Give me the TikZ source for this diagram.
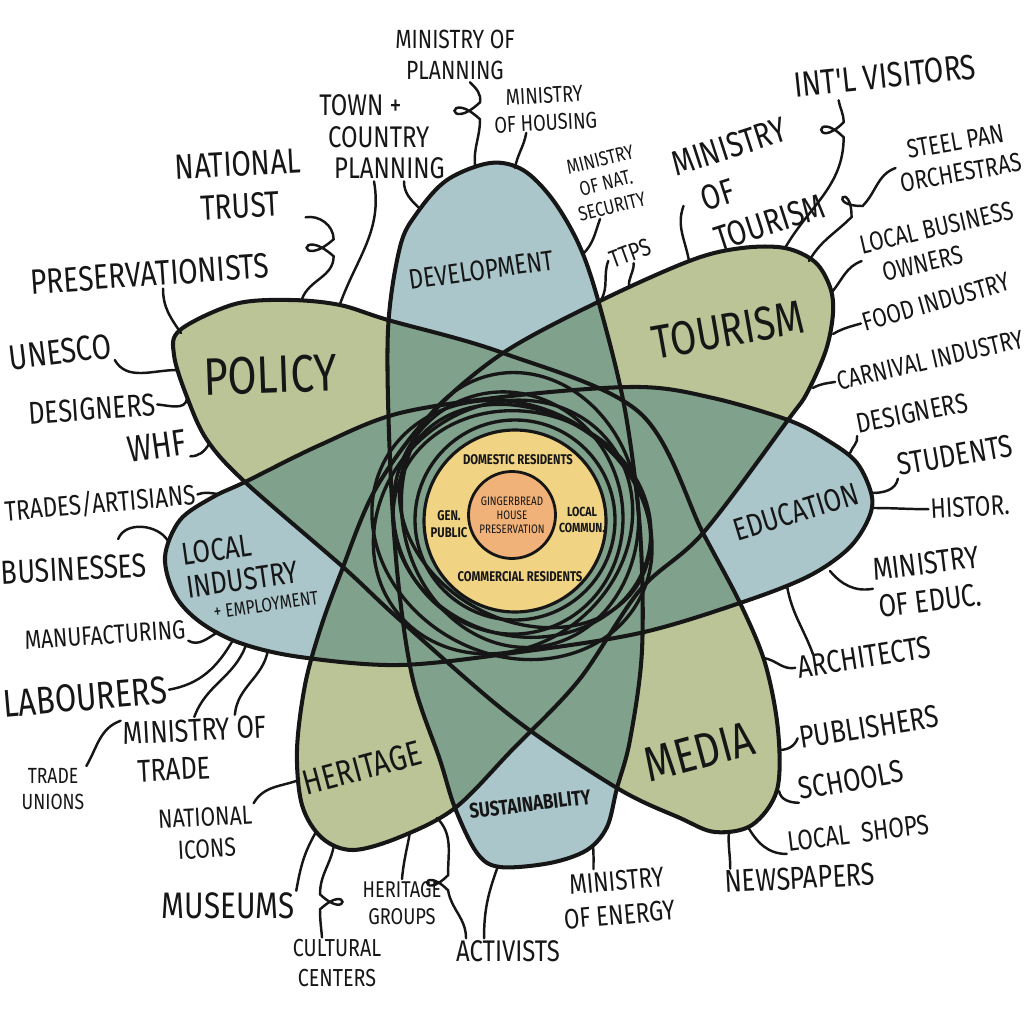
\documentclass[tikz,border=0pt]{standalone}
\usepackage{fontspec}
\newfontfamily\hand{Fira Sans}[FakeStretch=0.8]
\usetikzlibrary{calc}
\definecolor{ink}{HTML}{161616}
\definecolor{leaf}{HTML}{BAC496}
\definecolor{sky}{HTML}{AAC6CA}
\definecolor{overlap}{HTML}{80A18B}
\definecolor{sand}{HTML}{F0D484}
\definecolor{peach}{HTML}{F0B278}
\newcommand\lblsize[1]{\fontsize{#1}{#1}\selectfont\setlength\baselineskip{1.2\baselineskip}}

% petal outlines, traced in pixel units (y negative)
\def\petalPM{plot[smooth cycle,tension=0.55] coordinates {(180,-330) (235,-304) (290,-300) (340,-305) (388,-320) (503,-353) (640,-413) (703,-533) (740,-603) (765,-663) (778,-730) (777,-790) (752,-825) (715,-832) (680,-818) (617,-788) (512,-717) (400,-620) (343,-567) (245,-482) (207,-440) (187,-397) (174,-355)}}
\def\petalTH{plot[smooth cycle,tension=0.55] coordinates {(742,-248) (785,-248) (815,-262) (830,-287) (833,-313) (826,-350) (807,-393) (788,-420) (703,-533) (640,-590) (579,-680) (512,-750) (455,-808) (400,-837) (353,-850) (322,-838) (302,-805) (297,-750) (305,-685) (320,-630) (340,-575) (375,-490) (430,-415) (503,-353) (602,-300) (692,-260)}}
\def\petalV{plot[smooth cycle,tension=0.55] coordinates {(490,-163) (523,-170) (553,-200) (580,-247) (600,-307) (625,-410) (640,-530) (642,-650) (630,-740) (617,-788) (607,-827) (587,-850) (550,-863) (500,-867) (477,-853) (455,-808) (440,-760) (413,-680) (398,-580) (390,-460) (388,-330) (400,-247) (417,-213) (447,-180)}}
\def\petalH{plot[smooth cycle,tension=0.55] coordinates {(165,-557) (180,-520) (213,-497) (245,-482) (320,-445) (400,-413) (520,-395) (640,-387) (713,-398) (788,-420) (827,-440) (857,-463) (872,-497) (867,-522) (847,-550) (807,-577) (740,-603) (640,-633) (520,-652) (400,-665) (300,-657) (240,-643) (200,-622) (175,-595)}}

\tikzset{
  petal/.style={draw=ink,line width=2.3pt,line join=round},
  ring/.style={draw=ink,line width=1.9pt},
  conn/.style={draw=ink,line width=1.4pt,line cap=round},
  lbl/.style={text=ink,align=center,inner sep=1pt,font=\hand\lblsize{#1}},
  title/.style={text=ink,align=center,inner sep=1pt,font=\hand\lblsize{#1}},
  centre/.style={text=ink,align=center,inner sep=1pt,font=\hand\bfseries\lblsize{#1}},
}

\begin{document}
\begin{tikzpicture}[x=0.02cm,y=0.02cm]
  \useasboundingbox (0,0) rectangle (1024,-1024);

  % petals and their overlaps
  \fill[leaf] \petalPM;
  \fill[leaf] \petalTH;
  \fill[sky] \petalV;
  \fill[sky] \petalH;
  \begin{scope}
    \clip \petalPM;
    \fill[overlap] \petalTH; \fill[overlap] \petalV; \fill[overlap] \petalH;
  \end{scope}
  \begin{scope}
    \clip \petalTH;
    \fill[overlap] \petalV; \fill[overlap] \petalH;
  \end{scope}
  \begin{scope}
    \clip \petalV;
    \fill[overlap] \petalH;
  \end{scope}
  \draw[petal] \petalPM;
  \draw[petal] \petalTH;
  \draw[petal] \petalV;
  \draw[petal] \petalH;

  % scribbled rings round the core
  \foreach \cx/\cy/\rx/\ry/\rot in {515/-520/100/100/0, 508/-513/114/122/20,
      522/-524/130/112/-15, 503/-527/136/120/40, 520/-510/118/138/10,
      512/-530/145/124/-30, 525/-516/104/132/60}
    \draw[ring,rotate around={\rot:(\cx,\cy)}] (\cx,\cy) ellipse [x radius=\rx,y radius=\ry];

  \draw[ink,line width=1.8pt,fill=sand] (515,-521) circle [radius=91];
  \node[circle,draw=ink,line width=1.6pt,fill=peach,minimum size=1.74cm,inner sep=0pt,
        align=center,text=ink,font=\hand\fontsize{7}{8}\selectfont] (core) at (512,-515)
    {GINGERBREAD\\HOUSE\\PRESERVATION};
  \node[centre=8] (domestic) at (518,-460) {DOMESTIC RESIDENTS};
  \node[centre=8] (genpub) at (449,-524) {GEN.\\PUBLIC};
  \node[centre=7.5] (localcom) at (582,-520) {LOCAL\\COMMUN.};
  \node[centre=8] (commercial) at (520,-577) {COMMERCIAL RESIDENTS};

  % petal titles
  \node[title=30,rotate=2] (policy) at (270,-375) {POLICY};
  \node[title=27,rotate=10] (tourism) at (728,-330) {TOURISM};
  \node[title=16,rotate=8] (devel) at (481,-270) {DEVELOPMENT};
  \node[title=18,rotate=17] (educ) at (796,-512) {EDUCATION};
  \node[title=18,rotate=8,align=left,font=\hand\fontsize{18}{19}\selectfont] (locind) at (240,-563) {LOCAL\\INDUSTRY};
  \node[title=11,rotate=8] (employ) at (266,-605) {+ EMPLOYMENT};
  \node[title=20,rotate=15] (herit) at (362,-768) {HERITAGE};
  \node[title=28,rotate=15] (media) at (699,-752) {MEDIA};
  \node[centre=12,rotate=7] (sustain) at (530,-804) {SUSTAINABILITY};

  % stakeholders
  \node[lbl=20,rotate=7] (unesco) at (60,-352) {UNESCO};
  \node[lbl=18,rotate=4] (desL) at (92,-409) {DESIGNERS};
  \node[lbl=21,rotate=8] (whf) at (157,-446) {WHF};
  \node[lbl=16,rotate=5] (trades) at (100,-503) {TRADES/ARTISIANS};
  \node[lbl=19,rotate=3] (bus) at (74,-569) {BUSINESSES};
  \node[lbl=15,rotate=4] (manuf) at (105,-635) {MANUFACTURING};
  \node[lbl=22,rotate=5] (lab) at (85,-697) {LABOURERS};
  \node[lbl=18,rotate=3,align=left] (mtrade) at (196,-749) {MINISTRY OF\\\hspace{0.4em}TRADE};
  \node[lbl=12.5] (tunions) at (53,-789) {TRADE\\UNIONS};
  \node[lbl=15,rotate=3] (nicons) at (206,-833) {NATIONAL\\ICONS};
  \node[lbl=21] (museums) at (228,-906) {MUSEUMS};
  \node[lbl=14] (cultural) at (337,-963) {CULTURAL\\CENTERS};
  \node[lbl=13] (hgroups) at (402,-903) {HERITAGE\\GROUPS};
  \node[lbl=17] (activists) at (508,-951) {ACTIVISTS};
  \node[lbl=16,rotate=5] (menergy) at (618,-898) {MINISTRY\\OF ENERGY};
  \node[lbl=18,rotate=3] (news) at (800,-878) {NEWSPAPERS};
  \node[lbl=16,rotate=7] (lshops) at (858,-833) {LOCAL\ \ SHOPS};
  \node[lbl=18,rotate=10] (schools) at (851,-780) {SCHOOLS};
  \node[lbl=18,rotate=9] (pub) at (869,-727) {PUBLISHERS};
  \node[lbl=18,rotate=9] (arch) at (864,-657) {ARCHITECTS};
  \node[lbl=18,rotate=7] (meduc) at (928,-582) {MINISTRY\\OF EDUC.};
  \node[lbl=16,rotate=3] (histor) at (970,-507) {HISTOR.};
  \node[lbl=18,rotate=10] (students) at (955,-455) {STUDENTS};
  \node[lbl=16,rotate=11] (desR) at (912,-413) {DESIGNERS};
  \node[lbl=15,rotate=13] (carn) at (930,-360) {CARNIVAL INDUSTRY};
  \node[lbl=15,rotate=16] (food) at (936,-302) {FOOD INDUSTRY};
  \node[lbl=15,rotate=13,align=left] (lbo) at (940,-243) {LOCAL BUSINESS\\\hspace{0.6em}OWNERS};
  \node[lbl=15,rotate=10] (steel) at (958,-157) {STEEL PAN\\ORCHESTRAS};
  \node[lbl=20,rotate=6] (intl) at (885,-76) {INT'L VISITORS};
  \node[lbl=20,rotate=18,align=left] (mtour) at (748,-185) {MINISTRY\\\hspace{0.5em}OF\\\hspace{0.5em}TOURISM};
  \node[lbl=14,rotate=20] (ttps) at (630,-253) {TTPS};
  \node[lbl=11.5,rotate=14] (mnat) at (606,-183) {MINISTRY\\OF NAT.\\SECURITY};
  \node[lbl=13,rotate=3] (mhous) at (545,-109) {MINISTRY\\OF HOUSING};
  \node[lbl=15] (mplan) at (455,-55) {MINISTRY OF\\PLANNING};
  \node[lbl=17,align=left,font=\hand\fontsize{17}{18}\selectfont] (tcp) at (382,-137) {TOWN +\\\hspace{0.3em}COUNTRY\\\hspace{0.5em}PLANNING};
  \node[lbl=20,rotate=3] (ntrust) at (239,-185) {NATIONAL\\TRUST};
  \node[lbl=20,rotate=4] (pres) at (150,-274) {PRESERVATIONISTS};

  % where the strings meet the petals
  \coordinate (e-unesco) at (177,-370);
  \coordinate (e-desL) at (187,-399);
  \coordinate (e-whf) at (209,-444);
  \coordinate (e-trades) at (217,-494);
  \coordinate (e-bus) at (168,-541);
  \coordinate (e-manuf) at (218,-632);
  \coordinate (e-lab) at (233,-640);
  \coordinate (e-mt1) at (246,-645);
  \coordinate (e-mt2) at (268,-650);
  \coordinate (e-nicons) at (299,-780);
  \coordinate (e-mus) at (316,-832);
  \coordinate (e-cult) at (334,-845);
  \coordinate (e-hg) at (410,-832);
  \coordinate (e-act1) at (437,-818);
  \coordinate (e-act2) at (498,-866);
  \coordinate (e-men) at (593,-846);
  \coordinate (e-news) at (729,-831);
  \coordinate (e-lshop) at (748,-827);
  \coordinate (e-sch) at (779,-791);
  \coordinate (e-pub) at (779,-750);
  \coordinate (e-arch1) at (764,-658);
  \coordinate (e-arch2) at (787,-586);
  \coordinate (e-meduc) at (830,-571);
  \coordinate (e-histor) at (873,-508);
  \coordinate (e-stud) at (872,-493);
  \coordinate (e-desR) at (850,-453);
  \coordinate (e-carn) at (813,-388);
  \coordinate (e-food) at (833,-334);
  \coordinate (e-lbo) at (832,-292);
  \coordinate (e-steel) at (809,-261);
  \coordinate (e-intl) at (785,-248);
  \coordinate (e-mtour) at (689,-261);
  \coordinate (e-ttps1) at (601,-300);
  \coordinate (e-ttps2) at (629,-287);
  \coordinate (e-mnat) at (583,-254);
  \coordinate (e-mhous) at (515,-168);
  \coordinate (e-mplan) at (475,-165);
  \coordinate (e-tcp1) at (418,-207);
  \coordinate (e-tcp2) at (340,-304);
  \coordinate (e-ntrust) at (302,-299);
  \coordinate (e-pres) at (181,-333);

  % strings
  \draw[conn] (unesco.south east) to[out=-60,in=180] (e-unesco);
  \draw[conn] (desL.east) to[out=-5,in=-100] (e-desL);
  \draw[conn] (whf.south east) to[out=0,in=-120] (e-whf);
  \draw[conn] (trades.east) to[out=20,in=170] (e-trades);
  \draw[conn] ($(bus.north east)+(-30,12)$) to[out=70,in=120] (e-bus);
  \draw[conn] (manuf.south east) to[out=-30,in=-150] (e-manuf);
  \draw[conn] (lab.east) to[out=10,in=-120] (e-lab);
  \draw[conn] (mtrade.north) to[out=70,in=-110] (e-mt1);
  \draw[conn] ($(mtrade.north)!0.55!(mtrade.north east)$) to[out=85,in=-100] (e-mt2);
  \draw[conn] (tunions.north east) to[out=60,in=200] (mtrade.north west);
  \draw[conn] (nicons.north east) to[out=60,in=-160] (e-nicons);
  \draw[conn] (museums.north east) to[out=80,in=-120] (e-mus);
  \draw[conn] ($(cultural.north)+(-15,0)$) to[out=95,in=-90] ++(-2,28)
    .. controls +(30,28) and +(30,-28) .. ++(0,15) to[out=90,in=-100] (e-cult);
  \draw[conn] (hgroups.north) to[out=85,in=-100] (e-hg);
  \draw[conn] ($(activists.north west)+(12,0)$) to[out=90,in=-80] ++(-18,48)
    .. controls +(-28,28) and +(-28,-28) .. ++(0,15) to[out=90,in=-45] (e-act1);
  \draw[conn] ($(activists.north west)+(30,0)$) to[out=90,in=-110] (e-act2);
  \draw[conn] ($(menergy.north)+(-22,0)$) to[out=90,in=-85] (e-men);
  \draw[conn] ($(news.north west)+(8,0)$) to[out=90,in=-95] (e-news);
  \draw[conn] (lshops.south west) to[out=180,in=-60] (e-lshop);
  \draw[conn] (schools.south west) to[out=180,in=-80] (e-sch);
  \draw[conn] (pub.west) to[out=-110,in=0] (e-pub);
  \draw[conn] (arch.west) to[out=190,in=-10] (e-arch1);
  \draw[conn] ($(arch.north west)+(20,0)$) to[out=110,in=-80] (e-arch2);
  \draw[conn] (meduc.west) to[out=190,in=-50] (e-meduc);
  \draw[conn] (histor.west) to[out=180,in=0] (e-histor);
  \draw[conn] (students.south west) to[out=-100,in=0] (e-stud);
  \draw[conn] (desR.south west) to[out=-80,in=70] (e-desR);
  \draw[conn] (carn.west) to[out=190,in=30] (e-carn);
  \draw[conn] (food.west) to[out=196,in=30] (e-food);
  \draw[conn] (lbo.west) to[out=200,in=50] (e-lbo);
  \draw[conn] (steel.west) to[out=200,in=45] ++(-33,-38)
    .. controls +(-38,0) and +(0,38) .. ++(-11,-11) to[out=-135,in=60] (e-steel);
  \draw[conn] ($(intl.south west)+(45,0)$) to[out=-80,in=90] ++(5,-22)
    .. controls +(-30,-30) and +(-30,30) .. ++(0,-15) to[out=-90,in=60] (e-intl);
  \draw[conn] (mtour.west) to[out=-110,in=100] (e-mtour);
  \draw[conn] (ttps.west) to[out=-110,in=60] (e-ttps1);
  \draw[conn] (ttps.south) to[out=-90,in=95] (e-ttps2);
  \draw[conn] ($(mnat.south)!0.4!(mnat.south west)$) to[out=-110,in=45] (e-mnat);
  \draw[conn] ($(mhous.south)+(-20,0)$) to[out=-100,in=80] (e-mhous);
  \draw[conn] ($(mplan.south)+(15,0)$) to[out=-45,in=80] ++(10,-20)
    .. controls +(-34,-32) and +(-34,32) .. ++(0,-17) to[out=-90,in=95] (e-mplan);
  \draw[conn] ($(tcp.south)+(22,0)$) to[out=-90,in=135] (e-tcp1);
  \draw[conn] ($(tcp.south)+(-8,0)$) to[out=-80,in=70] (e-tcp2);
  \draw[conn] (ntrust.south east) to[out=10,in=90] ++(28,-22)
    .. controls +(-36,-32) and +(-36,32) .. ++(0,-17) to[out=-90,in=70] (e-ntrust);
  \draw[conn] ($(pres.south)+(12,0)$) to[out=-90,in=125] (e-pres);
\end{tikzpicture}
\end{document}
